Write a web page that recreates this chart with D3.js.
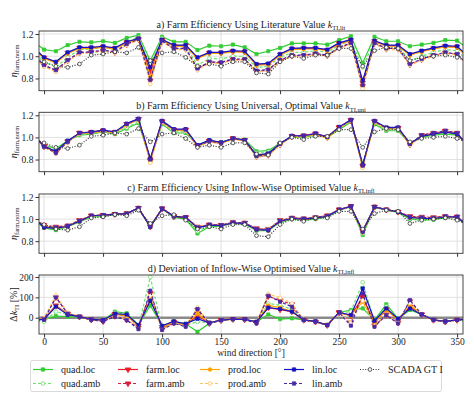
<!DOCTYPE html>
<html>
<head>
<meta charset="utf-8">
<title>Farm efficiency</title>
<script src="https://cdn.jsdelivr.net/npm/d3@7"></script>
<style>
body { margin: 0; background: #fff; }
text { font-family: "Liberation Serif", "DejaVu Serif", serif; fill: #222; }
</style>
</head>
<body>
<script>
// wind directions [deg]
var dirs = [0,10,20,30,40,50,60,70,80,90,100,110,120,130,140,150,160,170,180,190,200,210,220,230,240,250,260,270,280,290,300,310,320,330,340,350];

// SCADA measurement (same in panels a-c)
var scada = [0.95,0.91,0.90,0.93,1.01,1.02,1.04,1.03,1.08,0.96,1.03,1.04,0.99,0.91,0.93,0.91,0.95,0.95,0.85,0.84,0.95,1.00,0.98,1.01,1.01,1.07,1.07,0.91,1.05,1.08,1.07,0.96,0.99,1.00,1.01,0.99];

// a) literature value
var quadLocA = [1.06,1.045,1.10,1.13,1.125,1.135,1.12,1.165,1.19,0.96,1.175,1.13,1.13,1.055,1.095,1.09,1.105,1.08,1.02,1.045,1.075,1.115,1.115,1.115,1.105,1.145,1.18,0.94,1.175,1.135,1.135,1.09,1.105,1.12,1.145,1.14];
var quadAmbA = [0.95,0.90,0.99,1.06,1.065,1.08,1.065,1.13,1.17,0.93,1.16,1.09,1.09,0.92,0.98,0.975,1.0,1.0,0.90,0.91,0.99,1.035,1.035,1.05,1.035,1.10,1.14,0.90,1.14,1.09,1.09,0.96,1.0,1.035,1.06,1.05];
var farmLocA = [0.985,0.945,1.03,1.075,1.075,1.085,1.07,1.125,1.155,0.86,1.145,1.095,1.095,0.985,1.03,1.03,1.045,1.04,0.925,0.93,1.015,1.065,1.07,1.07,1.055,1.115,1.145,0.76,1.135,1.095,1.095,1.015,1.045,1.07,1.09,1.085];
var farmAmbA = [0.915,0.87,0.96,1.03,1.035,1.05,1.035,1.105,1.15,0.78,1.135,1.065,1.065,0.885,0.945,0.94,0.97,0.97,0.865,0.875,0.96,1.005,1.005,1.02,1.005,1.075,1.115,0.73,1.115,1.065,1.065,0.925,0.97,1.005,1.03,1.015];
var prodLocA = [0.98,0.94,1.025,1.07,1.07,1.08,1.065,1.12,1.15,0.82,1.14,1.09,1.09,0.98,1.025,1.025,1.04,1.035,0.92,0.925,1.01,1.06,1.065,1.065,1.05,1.11,1.14,0.73,1.13,1.09,1.09,1.01,1.04,1.065,1.085,1.08];
var prodAmbA = [0.905,0.86,0.955,1.025,1.03,1.045,1.03,1.10,1.145,0.75,1.13,1.06,1.06,0.875,0.94,0.935,0.965,0.965,0.86,0.87,0.955,1.0,1.0,1.015,1.0,1.07,1.11,0.71,1.11,1.06,1.06,0.92,0.965,1.0,1.025,1.01];
var linLocA = [0.99,0.95,1.035,1.08,1.08,1.09,1.075,1.13,1.16,0.90,1.15,1.10,1.10,0.99,1.035,1.035,1.05,1.045,0.93,0.935,1.02,1.07,1.075,1.075,1.06,1.12,1.15,0.78,1.14,1.10,1.10,1.02,1.05,1.075,1.095,1.09];
var linAmbA = [0.92,0.875,0.965,1.035,1.04,1.055,1.04,1.11,1.155,0.79,1.14,1.07,1.07,0.89,0.95,0.945,0.975,0.975,0.87,0.88,0.965,1.01,1.01,1.025,1.01,1.08,1.12,0.74,1.12,1.07,1.07,0.93,0.975,1.01,1.035,1.02];

// b) universal optimal value
var quadLocB = [0.93,0.90,0.97,1.02,1.03,1.05,1.03,1.08,1.13,0.80,1.12,1.04,1.04,0.93,0.97,0.955,0.99,0.98,0.875,0.88,0.95,1.005,1.0,1.02,1.0,1.07,1.14,0.76,1.12,1.06,1.06,0.945,1.0,1.02,1.03,1.02];
var quadAmbB = [0.925,0.89,0.965,1.025,1.035,1.055,1.035,1.09,1.14,0.79,1.13,1.05,1.05,0.925,0.97,0.95,0.99,0.98,0.86,0.87,0.945,1.01,1.005,1.025,1.0,1.08,1.145,0.75,1.13,1.07,1.07,0.94,1.005,1.025,1.04,1.025];
var farmLocB = [0.92,0.87,0.965,1.04,1.045,1.06,1.045,1.12,1.165,0.80,1.145,1.07,1.07,0.925,0.97,0.95,0.99,0.975,0.835,0.85,0.94,1.01,1.015,1.03,1.0,1.09,1.155,0.745,1.145,1.085,1.085,0.94,1.015,1.035,1.055,1.035];
var farmAmbB = [0.915,0.86,0.96,1.04,1.045,1.06,1.045,1.12,1.165,0.79,1.14,1.065,1.065,0.92,0.965,0.945,0.99,0.975,0.825,0.84,0.935,1.01,1.015,1.035,1.005,1.09,1.155,0.74,1.14,1.085,1.085,0.935,1.02,1.04,1.06,1.04];
var prodLocB = [0.915,0.865,0.96,1.035,1.04,1.055,1.04,1.115,1.16,0.78,1.14,1.065,1.065,0.92,0.965,0.945,0.985,0.97,0.83,0.845,0.935,1.005,1.01,1.025,0.995,1.085,1.15,0.73,1.14,1.08,1.08,0.935,1.01,1.03,1.05,1.03];
var prodAmbB = [0.91,0.855,0.955,1.035,1.04,1.055,1.04,1.115,1.16,0.77,1.135,1.06,1.06,0.915,0.96,0.94,0.985,0.97,0.82,0.835,0.93,1.005,1.01,1.03,1.0,1.085,1.15,0.725,1.135,1.08,1.08,0.93,1.015,1.035,1.055,1.035];
var linLocB = [0.92,0.875,0.97,1.04,1.05,1.065,1.05,1.125,1.17,0.81,1.15,1.075,1.075,0.93,0.975,0.955,0.99,0.975,0.84,0.855,0.945,1.015,1.015,1.035,1.005,1.095,1.16,0.75,1.15,1.09,1.09,0.945,1.01,1.03,1.05,1.03];
var linAmbB = [0.915,0.86,0.96,1.04,1.045,1.06,1.045,1.12,1.165,0.80,1.145,1.07,1.07,0.925,0.965,0.95,0.99,0.975,0.83,0.845,0.94,1.01,1.015,1.035,1.005,1.09,1.155,0.745,1.145,1.085,1.085,0.94,1.02,1.04,1.06,1.04];

// c) inflow-wise optimised value
var quadLocC = [0.92,0.90,0.93,0.975,1.02,1.025,1.04,1.045,1.095,0.93,1.09,1.015,1.0,0.87,0.93,0.935,0.96,0.955,0.895,0.895,0.97,1.0,0.99,1.0,1.02,1.08,1.11,0.855,1.105,1.08,1.06,1.0,0.99,0.995,1.01,1.015];
var quadAmbC = [0.93,0.91,0.935,0.98,1.025,1.03,1.045,1.05,1.10,0.935,1.095,1.02,1.005,0.89,0.935,0.94,0.965,0.96,0.90,0.90,0.975,1.0,0.995,1.005,1.025,1.085,1.115,0.87,1.11,1.085,1.065,1.005,0.995,1.0,1.015,1.02];
var farmLocC = [0.93,0.92,0.935,0.985,1.03,1.035,1.045,1.05,1.10,0.93,1.095,1.025,1.015,0.925,0.945,0.945,0.965,0.965,0.91,0.905,0.985,1.01,1.0,1.01,1.03,1.085,1.115,0.89,1.11,1.085,1.065,1.02,1.01,1.01,1.02,1.02];
var farmAmbC = [0.945,0.93,0.94,0.99,1.03,1.035,1.045,1.05,1.10,0.935,1.095,1.025,1.015,0.93,0.95,0.945,0.97,0.965,0.915,0.91,0.99,1.01,1.005,1.015,1.03,1.085,1.115,0.89,1.11,1.085,1.065,1.025,1.02,1.015,1.025,1.02];
var prodLocC = [0.93,0.915,0.935,0.98,1.03,1.035,1.045,1.05,1.10,0.93,1.095,1.025,1.015,0.925,0.945,0.94,0.965,0.96,0.905,0.905,0.98,1.005,1.0,1.01,1.025,1.085,1.115,0.885,1.11,1.085,1.065,1.015,1.005,1.005,1.02,1.02];
var prodAmbC = [0.94,0.925,0.94,0.985,1.03,1.035,1.045,1.05,1.10,0.935,1.095,1.025,1.015,0.93,0.95,0.945,0.97,0.965,0.91,0.91,0.985,1.01,1.005,1.015,1.03,1.085,1.115,0.885,1.11,1.085,1.065,1.02,1.015,1.01,1.025,1.02];
var linLocC = [0.925,0.915,0.935,0.98,1.03,1.035,1.045,1.05,1.10,0.93,1.095,1.025,1.015,0.92,0.945,0.94,0.965,0.96,0.905,0.90,0.98,1.005,1.0,1.01,1.025,1.085,1.115,0.89,1.11,1.085,1.065,1.015,1.005,1.005,1.02,1.02];
var linAmbC = [0.935,0.925,0.94,0.985,1.03,1.035,1.045,1.05,1.10,0.93,1.095,1.025,1.015,0.925,0.95,0.945,0.97,0.965,0.91,0.905,0.985,1.01,1.005,1.015,1.03,1.085,1.115,0.885,1.11,1.085,1.065,1.02,1.015,1.01,1.025,1.02];

// d) deviation of inflow-wise optimised k_TI [%]
var quadLocD = [-8,8,5,3,-8,-12,30,22,-36,60,-40,-18,-30,-69,-28,-12,-7,-8,-20,16,-7,-3,-11,-18,-36,26,38,46,-12,66,-5,38,16,-10,-18,-10];
var quadAmbD = [-20,30,15,5,-10,-15,25,15,-45,200,-50,-20,-35,-20,-25,-12,-8,-8,-22,70,62,40,-10,-20,-36,25,30,174,-20,55,-10,60,14,-11,-20,-11];
var farmLocD = [-5,60,18,5,-8,-15,18,10,-40,95,-45,-20,-35,10,-25,-12,-7,-8,-22,50,40,30,-11,-20,-36,26,10,100,-25,40,-12,55,15,-11,-20,-11];
var farmAmbD = [-5,100,20,5,-10,-18,8,-10,-50,120,-55,-25,-40,40,-28,-12,-7,-8,-25,105,85,66,-11,-20,-36,26,-25,105,-40,15,-25,80,16,-11,-20,-11];
var prodLocD = [-5,55,20,5,-8,-15,18,10,-40,90,-45,-20,-35,20,-25,-12,-7,-8,-22,60,50,30,-11,-20,-36,26,10,79,-25,40,-12,65,15,-11,-20,-11];
var prodAmbD = [-3,110,25,6,-8,-15,10,-8,-50,110,-55,-25,-40,50,-28,-12,-7,-8,-25,116,98,70,-11,-20,-36,26,-25,85,-40,15,-25,72,16,-11,-20,-11];
var linLocD = [-8,55,15,5,-8,-12,20,16,-36,84,-40,-18,-30,-5,-25,-12,-7,-8,-20,50,43,30,-11,-18,-36,26,13,144,-15,46,-5,45,16,-10,-18,-10];
var linAmbD = [-10,100,20,5,-10,-18,5,-12,-56,133,-60,-28,-44,43,-28,-12,-7,-8,-28,108,79,54,-11,-20,-36,26,-39,120,-44,13,-28,87,16,-11,-20,-11];

var seriesNames = ["quad.loc","quad.amb","farm.loc","farm.amb","prod.loc","prod.amb","lin.loc","lin.amb","SCADA GT I"];
var xTicks = [0,50,100,150,200,250,300,350];

// styles for each series
var styles = {
  "quad.loc":  {color:"#33cc33", dash:null,  sym:d3.symbolSquare,   fill:true,  rot:0},
  "quad.amb":  {color:"#6ee06e", dash:"3,2", sym:d3.symbolCircle,   fill:false, rot:0},
  "farm.loc":  {color:"#ee1c25", dash:null,  sym:d3.symbolTriangle, fill:true,  rot:180},
  "farm.amb":  {color:"#d8203c", dash:"3,2", sym:d3.symbolTriangle, fill:true,  rot:180},
  "prod.loc":  {color:"#ffa500", dash:null,  sym:d3.symbolCircle,   fill:true,  rot:0},
  "prod.amb":  {color:"#ffc45a", dash:"3,2", sym:d3.symbolCircle,   fill:false, rot:0},
  "lin.loc":   {color:"#1414c4", dash:null,  sym:d3.symbolSquare,   fill:true,  rot:0},
  "lin.amb":   {color:"#4a28a8", dash:"3,2", sym:d3.symbolSquare,   fill:true,  rot:0},
  "SCADA GT I":{color:"#333333", dash:"1,1.6", sym:d3.symbolCircle, fill:false, rot:0}
};

var panels = [
  {top:31,   bot:90.7,  dom:[0.69,1.227], ticks:[0.8,1.0,1.2], fmt:d3.format(".1f"),
   title:["a) Farm Efficiency Using Literature Value ","TI,lit"], ylab:"eta",
   data:[quadLocA,quadAmbA,farmLocA,farmAmbA,prodLocA,prodAmbA,linLocA,linAmbA,scada]},
  {top:112.3,bot:171.7, dom:[0.69,1.227], ticks:[0.8,1.0,1.2], fmt:d3.format(".1f"),
   title:["b) Farm Efficiency Using Universal, Optimal Value ","TI,uni"], ylab:"eta",
   data:[quadLocB,quadAmbB,farmLocB,farmAmbB,prodLocB,prodAmbB,linLocB,linAmbB,scada]},
  {top:194,  bot:253.3, dom:[0.69,1.227], ticks:[0.8,1.0,1.2], fmt:d3.format(".1f"),
   title:["c) Farm Efficiency Using Inflow-Wise Optimised Value ","TI,infl"], ylab:"eta",
   data:[quadLocC,quadAmbC,farmLocC,farmAmbC,prodLocC,prodAmbC,linLocC,linAmbC,scada]},
  {top:275,  bot:334,   dom:[-80,210], ticks:[0,100,200], fmt:d3.format("d"),
   title:["d) Deviation of Inflow-Wise Optimised Value ","TI,infl"], ylab:"dk",
   data:[quadLocD,quadAmbD,farmLocD,farmAmbD,prodLocD,prodAmbD,linLocD,linAmbD,null]}
];

var L = 39, R = 463;
var svg = d3.select("body").append("svg").attr("width", 474).attr("height", 393);

var x = d3.scaleLinear().domain([-4.3, 355]).range([L, R]);

panels.forEach(function(p, pi) {
  var y = d3.scaleLinear().domain(p.dom).range([p.bot, p.top]);
  var g = svg.append("g");

  // clip
  var cid = "clip" + pi;
  svg.append("clipPath").attr("id", cid).append("rect")
    .attr("x", L).attr("y", p.top).attr("width", R - L).attr("height", p.bot - p.top);

  // grid
  g.selectAll(".gx").data(xTicks).enter().append("line")
    .attr("x1", function(d){ return x(d); }).attr("x2", function(d){ return x(d); })
    .attr("y1", p.top).attr("y2", p.bot).attr("stroke", "#d9d9d9").attr("stroke-width", 0.8);
  g.selectAll(".gy").data(p.ticks).enter().append("line")
    .attr("x1", L).attr("x2", R)
    .attr("y1", function(d){ return y(d); }).attr("y2", function(d){ return y(d); })
    .attr("stroke", "#d9d9d9").attr("stroke-width", 0.8);

  if (pi == 3) {
    g.append("line").attr("x1", L).attr("x2", R).attr("y1", y(0)).attr("y2", y(0))
      .attr("stroke", "#8a8a8a").attr("stroke-width", 2.6);
  }

  var plot = g.append("g").attr("clip-path", "url(#" + cid + ")");

  p.data.forEach(function(vals, si) {
    if (!vals) return;
    var st = styles[seriesNames[si]];
    // wrap around so the lines run to the edges
    var pts = [[-10, vals[vals.length - 1]]];
    dirs.forEach(function(d, i){ pts.push([d, vals[i]]); });
    pts.push([360, vals[0]]);

    plot.append("path").datum(pts)
      .attr("fill", "none").attr("stroke", st.color).attr("stroke-width", 1.2)
      .attr("stroke-dasharray", st.dash)
      .attr("d", d3.line().x(function(d){ return x(d[0]); }).y(function(d){ return y(d[1]); }));

    var sym = d3.symbol().type(st.sym).size(st.sym === d3.symbolTriangle ? 13 : (st.sym === d3.symbolCircle ? 11 : 10));
    plot.selectAll(null).data(pts).enter().append("path")
      .attr("d", sym)
      .attr("transform", function(d){ return "translate(" + x(d[0]) + "," + y(d[1]) + ") rotate(" + st.rot + ")"; })
      .attr("fill", st.fill ? st.color : "#fff")
      .attr("stroke", st.color).attr("stroke-width", 0.8);
  });

  // frame
  g.append("rect").attr("x", L).attr("y", p.top).attr("width", R - L).attr("height", p.bot - p.top)
    .attr("fill", "none").attr("stroke", "#333").attr("stroke-width", 0.9);

  // axes
  var ax = g.append("g").attr("transform", "translate(0," + p.bot + ")")
    .call(d3.axisBottom(x).tickValues(xTicks).tickSize(3.5).tickFormat(pi == 3 ? d3.format("d") : ""));
  var ay = g.append("g").attr("transform", "translate(" + L + ",0)")
    .call(d3.axisLeft(y).tickValues(p.ticks).tickSize(3.5).tickFormat(p.fmt));
  [ax, ay].forEach(function(a){
    a.select(".domain").remove();
    a.selectAll("line").attr("stroke", "#333");
    a.selectAll("text").attr("font-size", 9.5).attr("font-family", "Liberation Serif, serif").attr("fill", "#222");
  });
  ax.selectAll("text").attr("y", 4.5).attr("dy", "0.7em");
  ay.selectAll("text").attr("dx", "0.1em");

  // title
  var t = g.append("text").attr("x", (L + R) / 2).attr("y", p.top - 3)
    .attr("text-anchor", "middle").attr("font-size", 10);
  t.append("tspan").text(p.title[0]);
  t.append("tspan").attr("font-style", "italic").text("k");
  t.append("tspan").attr("font-size", 6.5).attr("dy", 2.2).text(p.title[1]);

  // y label
  var cy = (p.top + p.bot) / 2;
  var yl = g.append("text").attr("transform", "translate(17," + cy + ") rotate(-90)")
    .attr("text-anchor", "middle").attr("font-size", 10);
  if (p.ylab == "eta") {
    yl.append("tspan").attr("font-style", "italic").text("η");
    yl.append("tspan").attr("font-size", 6.5).attr("dy", 2.2).text("farm,norm");
  } else {
    yl.append("tspan").text("Δ");
    yl.append("tspan").attr("font-style", "italic").text("k");
    yl.append("tspan").attr("font-size", 6.5).attr("dy", 2.2).text("TI");
    yl.append("tspan").attr("dy", -2.2).text(" [%]");
  }
});

svg.append("text").attr("x", (L + R) / 2).attr("y", 356).attr("text-anchor", "middle")
  .attr("font-size", 9.5).text("wind direction [°]");

// legend
var leg = svg.append("g");
leg.append("rect").attr("x", 30.5).attr("y", 360.5).attr("width", 411).attr("height", 31)
  .attr("rx", 2).attr("fill", "#fff").attr("stroke", "#d0d0d0").attr("stroke-width", 0.8);
var legPos = [[33,369.5],[33,383.5],[118,369.5],[118,383.5],[200,369.5],[200,383.5],[284,369.5],[284,383.5],[360,369.5]];
seriesNames.forEach(function(n, i) {
  var st = styles[n], px = legPos[i][0], py = legPos[i][1];
  leg.append("line").attr("x1", px).attr("x2", px + 20).attr("y1", py).attr("y2", py)
    .attr("stroke", st.color).attr("stroke-width", 1.2).attr("stroke-dasharray", st.dash);
  leg.append("path").attr("d", d3.symbol().type(st.sym).size(st.sym === d3.symbolTriangle ? 13 : 11))
    .attr("transform", "translate(" + (px + 10) + "," + py + ") rotate(" + st.rot + ")")
    .attr("fill", st.fill ? st.color : "#fff").attr("stroke", st.color).attr("stroke-width", 0.8);
  leg.append("text").attr("x", px + 28).attr("y", py + 3.3).attr("font-size", 10).text(n);
});
</script>
</body>
</html>
